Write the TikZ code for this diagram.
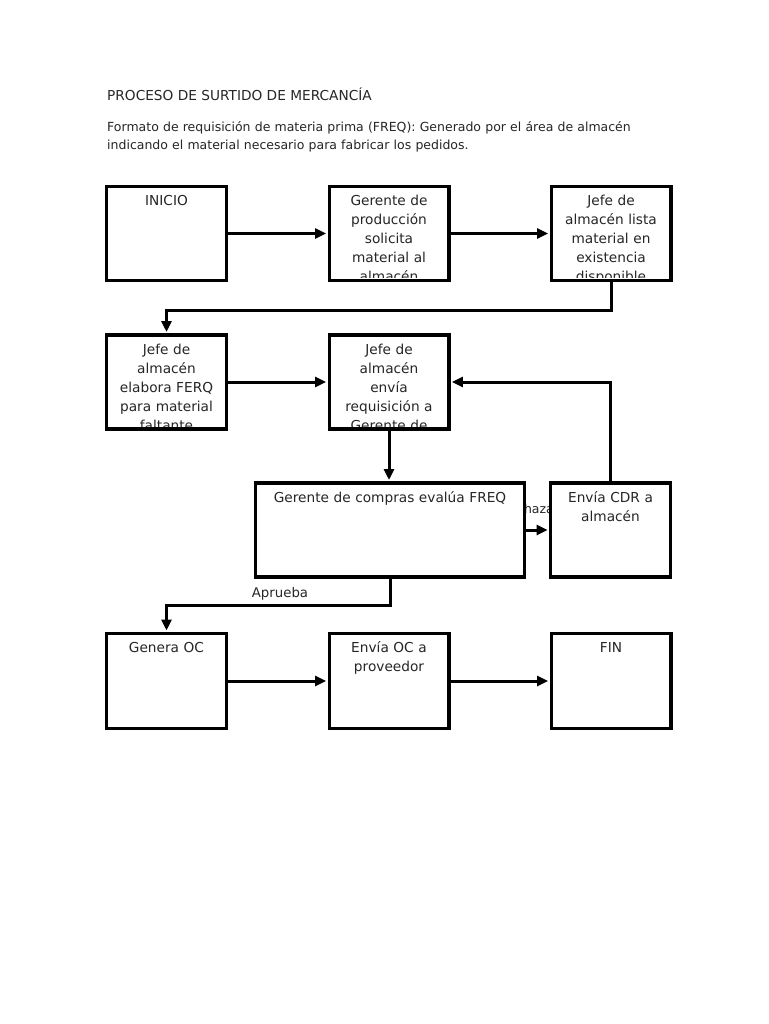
\documentclass[tikz,border=0pt]{standalone}
\usepackage{fontspec}
\setmainfont{DejaVu Sans}
\usetikzlibrary{arrows.meta}
\usetikzlibrary{positioning}

% text of a box, cut at the lower border of the box
\newcommand{\boxtext}[3][118pt]{%
  \begin{scope}
    \clip ([xshift=1.6pt,yshift=-1.6pt]#2.north west) rectangle ([xshift=-1.6pt,yshift=4.6pt]#2.south east);
    \node[txt, text width=#1, anchor=base] (#2-text) at ([yshift=-20.6pt]#2.north) {#3};
  \end{scope}}

\begin{document}
\begin{tikzpicture}[line cap=butt,line join=miter, x=1pt,y=-1pt,
  box/.style={draw, line width=3.2pt, fill=white, inner sep=0pt, minimum width=119.8pt, minimum height=94pt},
  txt/.style={align=center, inner sep=0pt, font=\fontsize{13.7}{19.1}\selectfont, text=black!85},
  plain/.style={inner sep=0pt, font=\fontsize{12.5}{18.3}\selectfont, text=black!85},
  arr/.style={line width=3pt, -{Triangle[length=11pt, width=10pt]}, shorten >=1.4pt}]
\useasboundingbox (0,0) rectangle (768,1024);
\fill[white] (0,0) rectangle (768,1024);
% heading
\node[plain, font=\fontsize{13.7}{16}\selectfont, anchor=base west] (title) at (107,100.5) {PROCESO DE SURTIDO DE MERCANCÍA};
\node[plain, anchor=base west, text width=640pt, align=left] (intro) at (107,131.5) {Formato de requisición de materia prima (FREQ): Generado por el área de almacén\\indicando el material necesario para fabricar los pedidos.};
% label under the boxes
\node[inner sep=0pt, font=\fontsize{12.5}{14}\selectfont, text=black!85, anchor=base east] (rechaza) at (554,513) {Rechaza};
% boxes
\node[box] (inicio) at (166.5,233.5) {};
\node[box] (gerprod) at (389,233.5) {};
\node[box] (lista) at (611,233.5) {};
\node[box] (elabora) at (166.5,382) {};
\node[box] (envia) at (389,382) {};
\node[box, minimum width=268.8pt] (evalua) at (390,530) {};
\node[box] (cdr) at (610.5,530) {};
\node[box, minimum height=95pt] (genoc) at (166.5,681) {};
\node[box, minimum height=95pt] (enviaoc) at (389,681) {};
\node[box, minimum height=95pt] (fin) at (611,681) {};
\boxtext{inicio}{INICIO}
\boxtext{gerprod}{Gerente de\\producción\\solicita\\material al\\almacén}
\boxtext{lista}{Jefe de\\almacén lista\\material en\\existencia\\disponible}
\boxtext{elabora}{Jefe de\\almacén\\elabora FERQ\\para material\\faltante}
\boxtext{envia}{Jefe de\\almacén\\envía\\requisición a\\Gerente de}
\boxtext[262pt]{evalua}{Gerente de compras evalúa FREQ}
\boxtext{cdr}{Envía CDR a\\almacén}
\boxtext{genoc}{Genera OC}
\boxtext{enviaoc}{Envía OC a\\proveedor}
\boxtext{fin}{FIN}
% connectors
\coordinate (bend1) at (611,310);
\coordinate (bend2) at (390,605);
\draw[arr] (inicio) -- (gerprod);
\draw[arr] (gerprod) -- (lista);
\draw[arr] (lista.south) -- (bend1) -| (elabora.north);
\draw[arr] (elabora) -- (envia);
\draw[arr] (envia.south) -- (envia.south |- evalua.north);
\draw[arr] (evalua) -- (cdr);
\draw[arr] (cdr.north) |- (envia.east);
\draw[arr] (evalua.south) -- (bend2) -| (genoc.north);
\draw[arr] (genoc) -- (enviaoc);
\draw[arr] (enviaoc) -- (fin);
\node[plain, font=\fontsize{13.3}{16}\selectfont, anchor=base] (aprueba) at (280,597) {Aprueba};
\end{tikzpicture}
\end{document}
